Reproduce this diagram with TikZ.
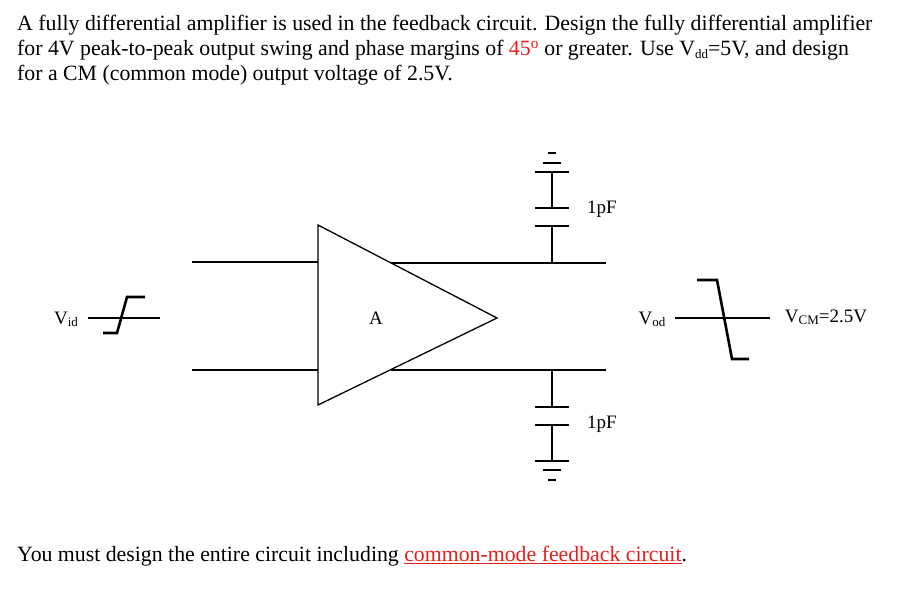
\documentclass[tikz,border=0pt]{standalone}
\usepackage{fontspec}
\setmainfont{Liberation Serif}
\usetikzlibrary{positioning}
\definecolor{hlred}{RGB}{230,30,30}
\newcommand{\sbs}[1]{\raisebox{-0.25ex}{\fontsize{13}{13}\selectfont #1}}
\tikzset{
  wire/.style={line width=1.3pt},
  stepline/.style={line width=2.6pt},
  plate/.style={line width=1.5pt},
  lbl/.style={inner sep=0pt, font=\fontsize{19}{22}\selectfont},
}
\begin{document}
\begin{tikzpicture}[x=1pt,y=-1pt]
  \useasboundingbox (0,0) rectangle (915,595);
  % problem text
  \node (task) [anchor=north west, align=left, inner sep=0pt,
    font=\fontsize{21.8}{25}\selectfont] at (17,15)
    {A fully differential amplifier is used in the feedback circuit. Design the fully differential amplifier\\
     for 4V peak-to-peak output swing and phase margins of \textcolor{hlred}{45\textsuperscript{o}} or greater. Use V\sbs{dd}=5V, and design\\
     for a CM (common mode) output voltage of 2.5V.};
  \node (note) [anchor=west, inner sep=0pt, font=\fontsize{21.8}{25}\selectfont] at (17,556)
    {You must design the entire circuit including \textcolor{hlred}{\underline{common-mode feedback circuit}}.};

  % amplifier
  \node (amp) [lbl] at (376,318) {A};
  \draw[wire] (318,225) -- (497,318) -- (318,405) -- cycle;
  \coordinate (inp) at (318,262);
  \coordinate (inn) at (318,370);
  \coordinate (outp) at (391,263);
  \coordinate (outn) at (391,370);
  \draw[wire] (192,262) -- (inp);
  \draw[wire] (192,370) -- (inn);
  \draw[wire] (outp) -- (606,263);
  \draw[wire] (outn) -- (606,370);

  % load capacitors
  \foreach \s/\y/\n in {1/263/top, -1/370/bot}{
    \begin{scope}[shift={(552,\y)}, yscale=\s]
      \draw[wire] (0,0) -- (0,-37);
      \draw[plate] (-17,-37) -- (17,-37);
      \draw[plate] (-17,-55) -- (17,-55);
      \draw[wire] (0,-55) -- (0,-91);
      \draw[plate] (-17,-91) -- (17,-91);
      \draw[plate] (-9,-100) -- (9,-100);
      \draw[plate] (-4,-110) -- (4,-110);
    \end{scope}
  }
  \node (ctop) [lbl] at (602,209) {1pF};
  \node (cbot) [lbl] at (602,424) {1pF};

  % input source
  \node (vid) [lbl] at (66,319) {V\sbs{id}};
  \draw[wire] (88,318) -- (160,318);
  \draw[stepline] (103,333) -- (117,333) -- (127,297) -- (145,297);

  % output
  \node (vod) [lbl] at (652,319) {V\sbs{od}};
  \draw[wire] (675,318) -- (770,318);
  \draw[stepline] (697,280) -- (717,280) -- (732,359) -- (749,359);
  \node (vcm) [lbl] at (826,317) {V\sbs{CM}=2.5V};
\end{tikzpicture}
\end{document}
